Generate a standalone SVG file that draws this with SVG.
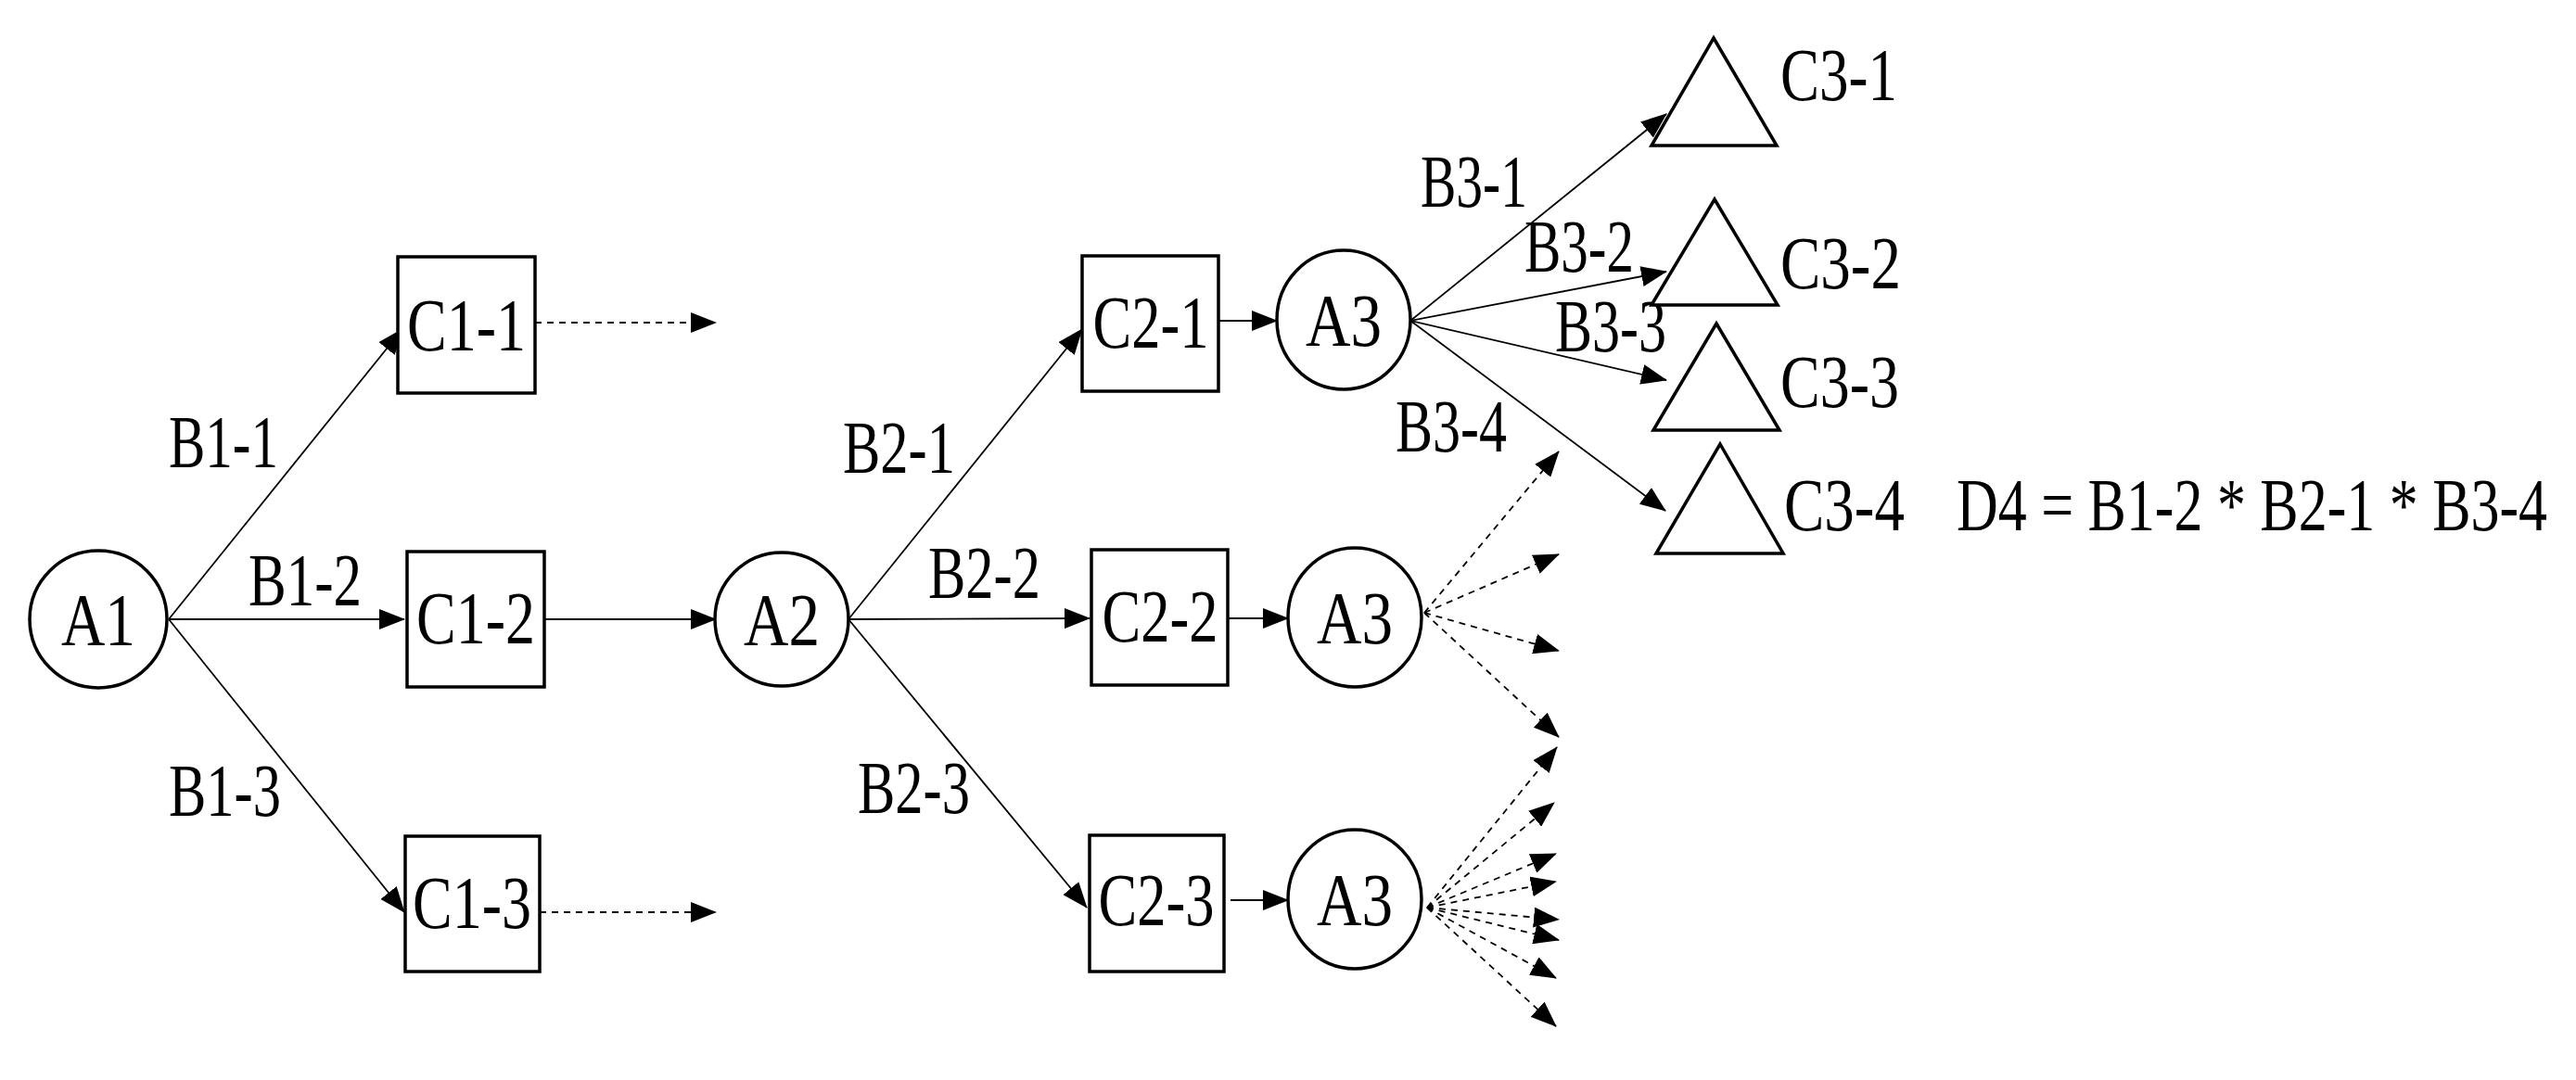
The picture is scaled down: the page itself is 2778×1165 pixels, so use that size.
<svg xmlns="http://www.w3.org/2000/svg" width="2778" height="1165" viewBox="0 0 2778 1165">
<style>
.n{fill:#fff;stroke:#000;stroke-width:3.5}
.t{font-family:"Liberation Serif","DejaVu Serif",serif;font-size:80px;fill:#000}
.c line{stroke:#000;stroke-width:1.8}
.c .d{stroke-dasharray:7 6}
</style>
<defs>
<marker id="ah" markerUnits="userSpaceOnUse" markerWidth="28" markerHeight="22" refX="27" refY="11" orient="auto"><path d="M0,0 L28,11 L0,22 Z" fill="#000"/></marker>
</defs>
<rect width="2778" height="1165" fill="#fff"/>
<g id="connectors" class="c" marker-end="url(#ah)">
<line x1="182" y1="668" x2="434" y2="355"/>
<line x1="182" y1="668" x2="436" y2="668"/>
<line x1="182" y1="668" x2="436" y2="984"/>
<line class="d" x1="577" y1="348" x2="772" y2="348"/>
<line class="d" x1="582" y1="984" x2="772" y2="984"/>
<line x1="587" y1="668" x2="772" y2="668"/>
<line x1="915" y1="668" x2="1167" y2="355"/>
<line x1="915" y1="668" x2="1175" y2="667"/>
<line x1="915" y1="668" x2="1172" y2="979"/>
<line x1="1314" y1="346" x2="1377" y2="346"/>
<line x1="1324" y1="667" x2="1389" y2="667"/>
<line x1="1327" y1="971" x2="1389" y2="971"/>
<line x1="1521" y1="346" x2="1797" y2="123"/>
<line x1="1521" y1="346" x2="1797" y2="293"/>
<line x1="1521" y1="346" x2="1797" y2="410"/>
<line x1="1521" y1="346" x2="1796" y2="551"/>
<line class="d" x1="1536" y1="661" x2="1681" y2="487"/>
<line class="d" x1="1536" y1="661" x2="1681" y2="598"/>
<line class="d" x1="1536" y1="661" x2="1681" y2="702"/>
<line class="d" x1="1536" y1="661" x2="1681" y2="795"/>
<line class="d" x1="1539" y1="979" x2="1679" y2="806"/>
<line class="d" x1="1539" y1="979" x2="1676" y2="866"/>
<line class="d" x1="1539" y1="979" x2="1678" y2="921"/>
<line class="d" x1="1539" y1="979" x2="1678" y2="951"/>
<line class="d" x1="1539" y1="979" x2="1681" y2="992"/>
<line class="d" x1="1539" y1="979" x2="1681" y2="1014"/>
<line class="d" x1="1539" y1="979" x2="1678" y2="1055"/>
<line class="d" x1="1539" y1="979" x2="1678" y2="1107"/>
</g>
<g id="labels" class="t">
<text x="182" y="504" textLength="118" lengthAdjust="spacingAndGlyphs">B1-1</text>
<text x="268" y="653" textLength="122" lengthAdjust="spacingAndGlyphs">B1-2</text>
<text x="182" y="880" textLength="121" lengthAdjust="spacingAndGlyphs">B1-3</text>
<text x="909" y="510" textLength="121" lengthAdjust="spacingAndGlyphs">B2-1</text>
<text x="1001" y="645" textLength="121" lengthAdjust="spacingAndGlyphs">B2-2</text>
<text x="925" y="877" textLength="121" lengthAdjust="spacingAndGlyphs">B2-3</text>
<text x="1532" y="223" textLength="115" lengthAdjust="spacingAndGlyphs">B3-1</text>
<text x="1644" y="293" textLength="118" lengthAdjust="spacingAndGlyphs">B3-2</text>
<text x="1677" y="379" textLength="120" lengthAdjust="spacingAndGlyphs">B3-3</text>
<text x="1505" y="487" textLength="120" lengthAdjust="spacingAndGlyphs">B3-4</text>
<text x="2110" y="572" textLength="637" lengthAdjust="spacingAndGlyphs">D4 = B1-2 * B2-1 * B3-4</text>
</g>
<g id="A1"><circle class="n" cx="106" cy="668" r="74"/><text class="t" x="106" y="696" text-anchor="middle" textLength="80" lengthAdjust="spacingAndGlyphs">A1</text></g>
<g id="C1-1"><rect class="n" x="429" y="277" width="148" height="147"/><text class="t" x="503" y="378" text-anchor="middle" textLength="128" lengthAdjust="spacingAndGlyphs">C1-1</text></g>
<g id="C1-2"><rect class="n" x="439" y="595" width="148" height="146"/><text class="t" x="513" y="694" text-anchor="middle" textLength="128" lengthAdjust="spacingAndGlyphs">C1-2</text></g>
<g id="C1-3"><rect class="n" x="437" y="902" width="145" height="146"/><text class="t" x="509" y="1001" text-anchor="middle" textLength="128" lengthAdjust="spacingAndGlyphs">C1-3</text></g>
<g id="A2"><circle class="n" cx="843" cy="668" r="72"/><text class="t" x="843" y="696" text-anchor="middle" textLength="82" lengthAdjust="spacingAndGlyphs">A2</text></g>
<g id="C2-1"><rect class="n" x="1167" y="276" width="147" height="146"/><text class="t" x="1241" y="375" text-anchor="middle" textLength="125" lengthAdjust="spacingAndGlyphs">C2-1</text></g>
<g id="C2-2"><rect class="n" x="1177" y="593" width="147" height="146"/><text class="t" x="1251" y="692" text-anchor="middle" textLength="125" lengthAdjust="spacingAndGlyphs">C2-2</text></g>
<g id="C2-3"><rect class="n" x="1175" y="901" width="145" height="147"/><text class="t" x="1247" y="998" text-anchor="middle" textLength="125" lengthAdjust="spacingAndGlyphs">C2-3</text></g>
<g id="A3-1"><ellipse class="n" cx="1449" cy="345" rx="72" ry="75"/><text class="t" x="1449" y="373" text-anchor="middle" textLength="82" lengthAdjust="spacingAndGlyphs">A3</text></g>
<g id="A3-2"><ellipse class="n" cx="1461" cy="666" rx="72" ry="75"/><text class="t" x="1461" y="694" text-anchor="middle" textLength="82" lengthAdjust="spacingAndGlyphs">A3</text></g>
<g id="A3-3"><ellipse class="n" cx="1461" cy="970" rx="72" ry="75"/><text class="t" x="1461" y="998" text-anchor="middle" textLength="82" lengthAdjust="spacingAndGlyphs">A3</text></g>
<g id="C3-1"><polygon class="n" points="1848,41 1916,157 1781,157"/><text class="t" x="1920" y="108" textLength="126" lengthAdjust="spacingAndGlyphs">C3-1</text></g>
<g id="C3-2"><polygon class="n" points="1849,215 1917,329 1781,329"/><text class="t" x="1920" y="311" textLength="130" lengthAdjust="spacingAndGlyphs">C3-2</text></g>
<g id="C3-3"><polygon class="n" points="1851,349 1919,464 1783,464"/><text class="t" x="1920" y="439" textLength="128" lengthAdjust="spacingAndGlyphs">C3-3</text></g>
<g id="C3-4"><polygon class="n" points="1855,479 1923,597 1786,597"/><text class="t" x="1924" y="572" textLength="130" lengthAdjust="spacingAndGlyphs">C3-4</text></g>
</svg>
